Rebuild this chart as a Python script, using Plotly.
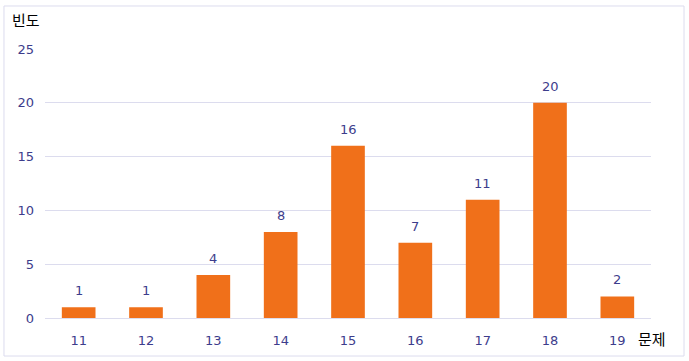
import plotly.graph_objects as go

categories = ["11", "12", "13", "14", "15", "16", "17", "18", "19"]
values = [1, 1, 4, 8, 16, 7, 11, 20, 2]
y_ticks = [0, 5, 10, 15, 20, 25]

label_color = "#3d3d8c"
grid_color = "#dcdcee"
font_fam = "DejaVu Sans, Verdana, sans-serif"
kr_font = "Noto Sans CJK KR, sans-serif"

fig = go.Figure(go.Bar(
    x=categories, y=values, width=0.5,
    marker=dict(color="#f0701a", line=dict(width=0)),
    cliponaxis=False,
))

value_labels = [dict(x=i, y=v, text=str(v), xref="x", yref="y", showarrow=False,
                     yanchor="bottom", yshift=7,
                     font=dict(family=font_fam, size=13, color=label_color))
                for i, v in enumerate(values)]

fig.update_layout(
    width=689, height=361,
    margin=dict(l=45, r=38, t=49, b=43),
    paper_bgcolor="white", plot_bgcolor="white",
    showlegend=False,
    font=dict(family=font_fam, size=13, color=label_color),
    xaxis=dict(type="category", showgrid=False, showline=True, linecolor=grid_color,
               linewidth=1, ticks="", tickfont=dict(size=13, color=label_color),
               ticklabelstandoff=10),
    yaxis=dict(range=[0, 25], tickvals=y_ticks, showgrid=True, gridcolor=grid_color,
               zeroline=False, showline=False, ticks="",
               tickfont=dict(size=13, color=label_color), ticklabelstandoff=10),
    shapes=[dict(type="rect", xref="paper", yref="paper",
                 x0=-0.0677, x1=1.0545, y0=-0.1413, y1=1.1599,
                 line=dict(color="#dcdcee", width=1), fillcolor="rgba(0,0,0,0)")],
    annotations=value_labels + [
        dict(text="빈도", xref="paper", yref="paper", x=-0.057, y=1.11,
             xanchor="left", yanchor="middle", showarrow=False,
             font=dict(family=kr_font, size=15, color="black")),
        dict(text="문제", xref="paper", yref="paper", x=0.975, y=-0.075,
             xanchor="left", yanchor="middle", showarrow=False,
             font=dict(family=kr_font, size=15, color="black")),
    ],
    bargap=0.5,
)

fig.write_html("out.html", config={"displayModeBar": False},
               post_script="document.body.style.margin='0';document.body.style.overflow='hidden';")
